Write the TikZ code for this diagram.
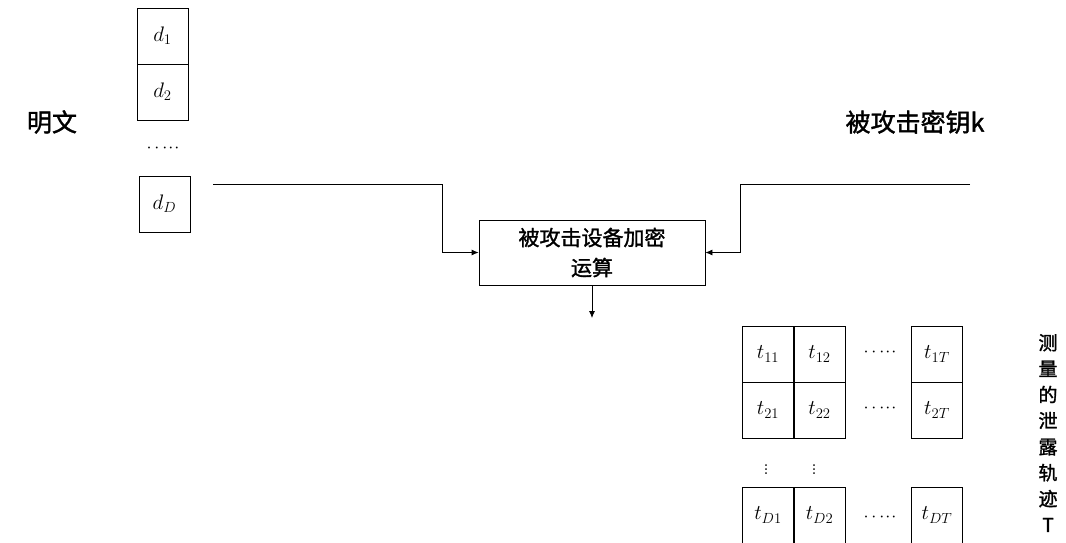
\documentclass[tikz,border=0pt]{standalone}
\usepackage{fix-cm}
\usepackage{fontspec}
\newfontfamily\cjk[AutoFakeBold=1.5]{Noto Sans CJK SC}
\usetikzlibrary{arrows.meta}
\newcommand{\cellm}[1]{\fontsize{21}{22}\selectfont$#1$}
\newcommand{\rowdots}{\fontsize{18}{18}\selectfont$\cdots\!\cdot\!\cdot$}
\begin{document}
\begin{tikzpicture}[x=1pt,y=-1pt,
  cell/.style={draw,thick,minimum width=51pt,minimum height=56pt,inner sep=0pt},
  conn/.style={thick,-{Latex[length=7pt,width=6pt]}},
  lab/.style={font=\cjk\bfseries\fontsize{25}{27}\selectfont}]
\useasboundingbox (0,0) rectangle (1066,542);
\node[cell] (d1) at (162.5,36) {\cellm{d_1}};
\node[cell] (d2) at (162.5,92) {\cellm{d_2}};
\node (dd) at (163,148) {\rowdots};
\node[cell] (dD) at (164.5,204) {\cellm{d_D}};
\node[lab] (mw) at (52,122) {明文};
\node[lab] (key) at (915,122) {被攻击密钥\textbf{k}};
\node[draw,thick,minimum width=226pt,minimum height=65pt,align=center,inner sep=2pt,
  font=\cjk\bfseries\fontsize{21}{30}\selectfont] (enc) at (592,252.5) {被攻击设备加密\\运算};
\coordinate (l0) at (213,184);
\coordinate (r0) at (970,184);
\coordinate (out) at (592,318);
\draw[conn] (l0) -- (442,184) |- (enc.west);
\draw[conn] (r0) -- (740,184) |- (enc.east);
\draw[conn] (enc.south) -- (out);
\node[cell] (t11) at (768,354) {\cellm{t_{11}}};
\node[cell] (t12) at (819.5,354) {\cellm{t_{12}}};
\node[cell] (t1T) at (937,354) {\cellm{t_{1T}}};
\node[cell] (t21) at (768,410) {\cellm{t_{21}}};
\node[cell] (t22) at (819.5,410) {\cellm{t_{22}}};
\node[cell] (t2T) at (937,410) {\cellm{t_{2T}}};
\node[cell] (tD1) at (768,515) {\cellm{t_{D1}}};
\node[cell] (tD2) at (819.5,515) {\cellm{t_{D2}}};
\node[cell] (tDT) at (937,515) {\cellm{t_{DT}}};
\foreach \y/\n in {352/a,408/b,517/c}
  \node (h\n) at (880,\y) {\rowdots};
\node[inner sep=0pt] (v1) at (766,467) {\fontsize{22}{22}\selectfont$\vdots$};
\node[inner sep=0pt] (v2) at (814,467) {\fontsize{22}{22}\selectfont$\vdots$};
\node[align=center,font=\cjk\bfseries\fontsize{19}{26}\selectfont] (lt) at (1048,433)
  {测\\量\\的\\泄\\露\\轨\\迹\\T};
\end{tikzpicture}
\end{document}
